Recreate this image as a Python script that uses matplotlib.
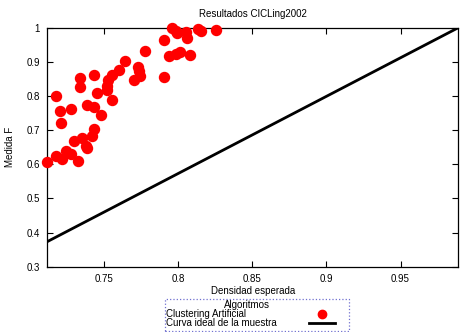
import matplotlib.pyplot as plt
from matplotlib.patches import Rectangle
from matplotlib.lines import Line2D

plt.rcParams['font.family'] = ['Liberation Sans', 'DejaVu Sans']

# densidad esperada / medida F por ejecucion
densidad = [0.7115, 0.7173, 0.7203, 0.7207, 0.7279, 0.7338, 0.7338, 0.7385,
            0.7434, 0.7449, 0.7434, 0.7476, 0.7434, 0.7417, 0.7517, 0.7517,
            0.7529, 0.7552, 0.7598, 0.7555, 0.7642, 0.7704, 0.7730, 0.7738,
            0.7743, 0.7774, 0.7904, 0.7904, 0.7935, 0.7961, 0.7985, 0.7992,
            0.7984, 0.8014, 0.8053, 0.8059, 0.8083, 0.8135, 0.8154, 0.8257,
            0.7176, 0.7217, 0.7240, 0.7274, 0.7297, 0.7322, 0.7348, 0.7378,
            0.7382]
medida_f = [0.606, 0.799, 0.757, 0.722, 0.762, 0.853, 0.826, 0.775,
            0.860, 0.809, 0.769, 0.744, 0.703, 0.682, 0.818, 0.829,
            0.847, 0.860, 0.876, 0.787, 0.902, 0.847, 0.886, 0.874,
            0.859, 0.932, 0.963, 0.855, 0.918, 1.000, 0.990, 0.984,
            0.923, 0.930, 0.988, 0.971, 0.920, 0.997, 0.990, 0.993,
            0.624, 0.615, 0.638, 0.629, 0.667, 0.611, 0.677, 0.654,
            0.647]

# curva ideal
ideal_x = [0.7115, 0.989]
ideal_y = [0.373, 1.0]

xticks = [0.75, 0.8, 0.85, 0.9, 0.95]
yticks = [0.3, 0.4, 0.5, 0.6, 0.7, 0.8, 0.9, 1.0]
etiquetas = ['Clustering Artificial', 'Curva ideal de la muestra']

W, H = 474.0, 332.0
fig = plt.figure(figsize=(4.74, 3.32), dpi=100)
ax = fig.add_axes([0.0992, 0.1967, 0.8677, 0.7199])

ax.plot(densidad, medida_f, 'o', color='#ff0000', markersize=7.2,
        clip_on=False, zorder=3)
ax.plot(ideal_x, ideal_y, '-', color='black', linewidth=2, zorder=2)

ax.set_xlim(0.7115, 0.989)
ax.set_ylim(0.3, 1.0)
ax.set_xticks(xticks)
ax.set_xticklabels(['0.75', '0.8', '0.85', '0.9', '0.95'])
ax.set_yticks(yticks)
ax.set_yticklabels(['0.3', '0.4', '0.5', '0.6', '0.7', '0.8', '0.9', '1'])
ax.tick_params(direction='in', length=4, width=0.8, labelsize=7,
               top=True, right=True, pad=5)
for s in ax.spines.values():
    s.set_linewidth(0.9)

ax.set_title('Resultados CICLing2002', fontsize=7, pad=8)
ax.set_xlabel('Densidad esperada', fontsize=7, labelpad=2)
ax.set_ylabel('Medida F', fontsize=7, labelpad=8)

# leyenda estilo gnuplot: caja punteada, texto a la izquierda, muestra a la derecha
def fx(px):
    return px / W

def fy(py):
    return 1 - py / H

fig.patches.append(Rectangle((fx(165), fy(331)), fx(349) - fx(165), fy(299) - fy(331),
                             transform=fig.transFigure, fill=False,
                             edgecolor='#7070d0', linestyle=':', linewidth=0.9))
fig.text(fx(247), fy(305), 'Algoritmos', fontsize=7, ha='center', va='center')
fig.text(fx(166), fy(314), etiquetas[0], fontsize=7, ha='left', va='center')
fig.text(fx(166), fy(323), etiquetas[1], fontsize=7, ha='left', va='center')
fig.lines.append(Line2D([fx(322)], [fy(314)], marker='o', color='#ff0000',
                        markersize=6, linestyle='none', transform=fig.transFigure))
fig.lines.append(Line2D([fx(309), fx(335)], [fy(323), fy(323)], color='black',
                        linewidth=2, transform=fig.transFigure))

fig.savefig('out.png', dpi=100)
